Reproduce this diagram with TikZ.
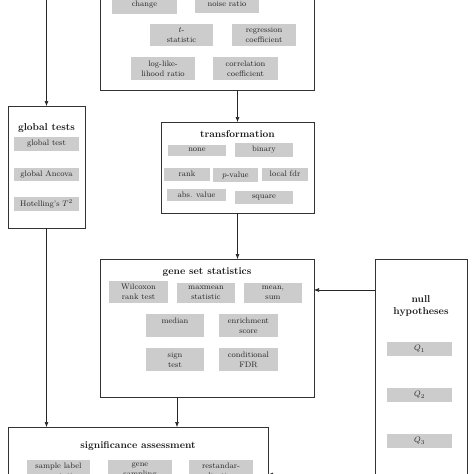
\documentclass[tikz,border=0pt]{standalone}
\usetikzlibrary{arrows.meta,calc}
\begin{document}
\begin{tikzpicture}[x=1pt,y=-1pt,
  cont/.style={draw=black!80,line width=0.8pt,inner sep=0pt,outer sep=0pt,anchor=north west},
  gbox/.style={fill=black!20,inner sep=0pt,outer sep=0pt,align=center,font=\fontsize{8}{10}\selectfont,text=black!85},
  ttl/.style={font=\bfseries\fontsize{10}{12}\selectfont,align=center,text=black!90},
  arr/.style={line width=0.6pt,draw=black!85,-{Latex[length=5pt,width=4pt]}},
  ln/.style={line width=0.6pt,draw=black!85}]
\useasboundingbox (0,0) rectangle (474,474);
% containers
\node[cont,minimum width=214pt,minimum height=160pt,anchor=south west] (loc) at (100,90) {};
\node[cont,minimum width=153pt,minimum height=91pt] (tr) at (161,122) {};
\node[cont,minimum width=77pt,minimum height=122pt] (gt) at (8,106) {};
\node[cont,minimum width=214pt,minimum height=138pt] (gss) at (100,259) {};
\node[cont,minimum width=92pt,minimum height=250pt] (nh) at (375,259) {};
\node[cont,minimum width=260pt,minimum height=80pt] (sig) at (8,427) {};
% local statistics box contents
\node[gbox,minimum width=65pt,minimum height=18pt] (fc) at (144.5,5) {change};
\node[gbox,minimum width=64pt,minimum height=17pt] (snr) at (227,4) {noise ratio};
\node[gbox,minimum width=63pt,minimum height=22pt] (ts) at (181.5,35) {$t$-\\statistic};
\node[gbox,minimum width=64pt,minimum height=22pt] (rc) at (264,35) {regression\\coefficient};
\node[gbox,minimum width=64pt,minimum height=23pt] (llr) at (163,68.5) {log-like-\\lihood ratio};
\node[gbox,minimum width=65pt,minimum height=23pt] (cc) at (245.5,68.5) {correlation\\coefficient};
% transformation
\node[ttl] (trt) at (237.5,134) {transformation};
\node[gbox,minimum width=58pt,minimum height=11pt] (none) at (197,150) {none};
\node[gbox,minimum width=58pt,minimum height=14pt] (bin) at (264,150) {binary};
\node[gbox,minimum width=46pt,minimum height=13pt] (rank) at (187,174) {rank};
\node[gbox,minimum width=45pt,minimum height=14pt] (pv) at (235.5,175) {$p$-value};
\node[gbox,minimum width=46pt,minimum height=13pt] (lfdr) at (285,174) {local fdr};
\node[gbox,minimum width=59pt,minimum height=12pt] (abs) at (196.5,195) {abs. value};
\node[gbox,minimum width=58pt,minimum height=13pt] (sq) at (264,197) {square};
% global tests
\node[ttl] (gtt) at (46.5,128) {global tests};
\node[gbox,minimum width=65pt,minimum height=14pt] (g1) at (46.5,144) {global test};
\node[gbox,minimum width=65pt,minimum height=13pt] (g2) at (46.5,174.5) {global Ancova};
\node[gbox,minimum width=65pt,minimum height=14pt] (g3) at (46.5,204) {Hotelling's $T^2$};
% gene set statistics
\node[ttl] (gsst) at (207,272) {gene set statistics};
\node[gbox,minimum width=59pt,minimum height=22pt] (wil) at (138.5,292) {Wilcoxon\\rank test};
\node[gbox,minimum width=58pt,minimum height=20pt] (mm) at (206,293) {maxmean\\statistic};
\node[gbox,minimum width=58pt,minimum height=20pt] (ms) at (273,293) {mean,\\sum};
\node[gbox,minimum width=58pt,minimum height=23pt] (med) at (175,325.5) {median\\\mbox{}};
\node[gbox,minimum width=59pt,minimum height=23pt] (es) at (248.5,325.5) {enrichment\\score};
\node[gbox,minimum width=58pt,minimum height=23pt] (st) at (175,359.5) {sign\\test};
\node[gbox,minimum width=59pt,minimum height=23pt] (cf) at (248.5,359.5) {conditional\\FDR};
% null hypotheses
\node[ttl] (nht) at (421,306.5) {null\\hypotheses};
\node[gbox,minimum width=65pt,minimum height=14pt] (q1) at (419.5,349) {$Q_1$};
\node[gbox,minimum width=65pt,minimum height=14pt] (q2) at (419.5,395) {$Q_2$};
\node[gbox,minimum width=65pt,minimum height=14pt] (q3) at (419.5,441) {$Q_3$};
% significance assessment
\node[ttl] (sigt) at (138,446) {significance assessment};
\node[gbox,minimum width=63pt,minimum height=22pt] (s1) at (58.5,471) {sample label\\permutation};
\node[gbox,minimum width=64pt,minimum height=22pt] (s2) at (140,471) {gene\\sampling};
\node[gbox,minimum width=64pt,minimum height=22pt] (s3) at (221,471) {restandar-\\dization};
% connectors
\coordinate (gtin) at (46.5,-5);
\draw[arr] (gtin) -- (gt.north);
\draw[arr] (tr.north |- loc.south) -- (tr.north);
\draw[arr] (tr.south) -- (tr.south |- gss.north);
\draw[arr] (gt.south) -- (gt.south |- sig.north);
\draw[arr] ([xshift=-30pt]gss.south) -- ([xshift=-30pt]gss.south |- sig.north);
\draw[arr] ([yshift=-31pt]nh.north west) -- ([yshift=-31pt]nh.north west -| gss.east);
\draw[arr] ([yshift=-215.5pt]nh.north west) -- ([yshift=-215.5pt]nh.north west -| sig.east);
\end{tikzpicture}
\end{document}
